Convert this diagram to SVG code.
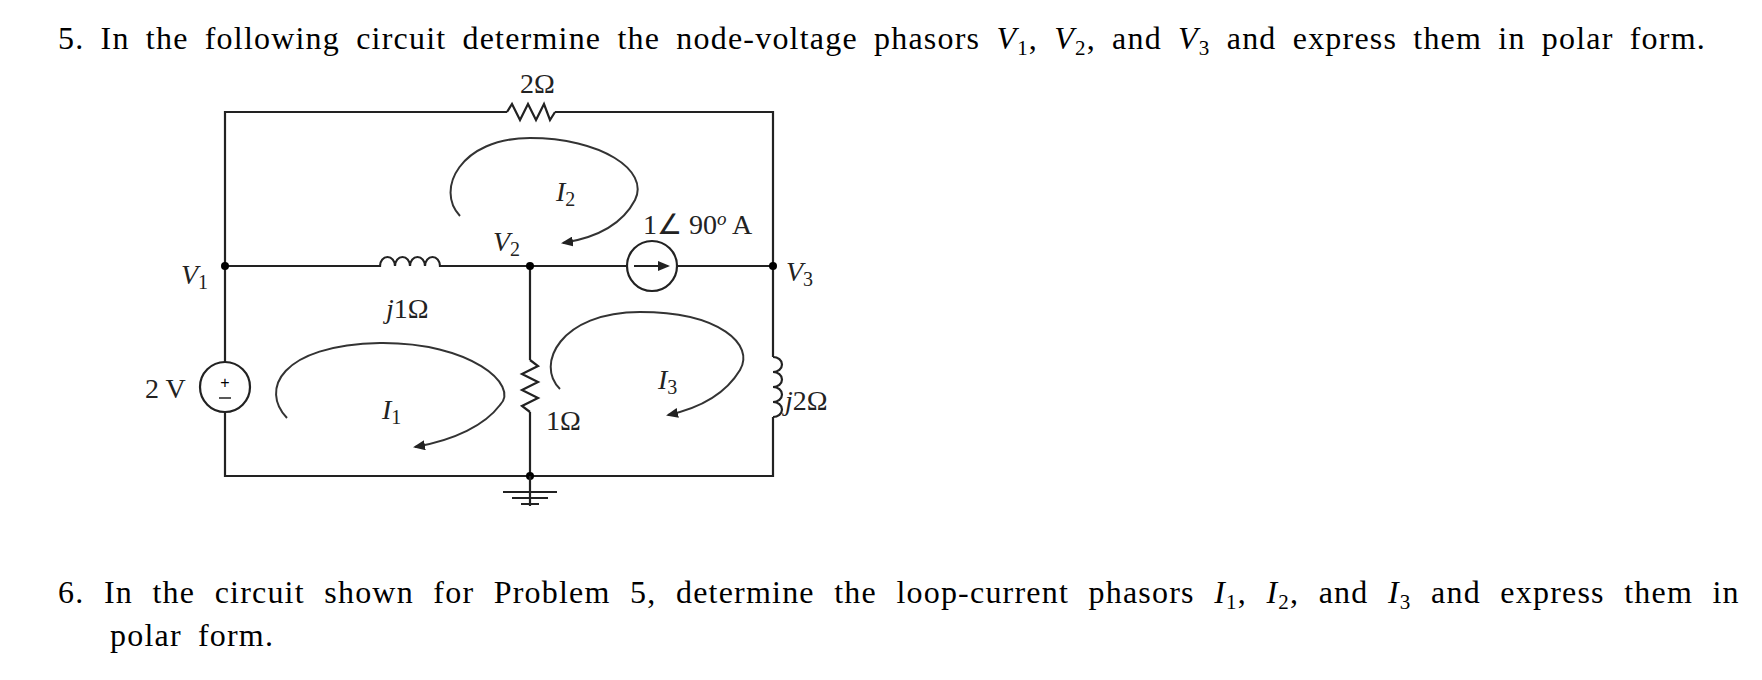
<svg xmlns="http://www.w3.org/2000/svg" width="1762" height="680" viewBox="0 0 1762 680">
<style>
.w{fill:none;stroke:#222;stroke-width:2.2}
.a{fill:none;stroke:#333;stroke-width:2}
.t{font-family:"Liberation Serif",serif;font-size:32px;fill:#000;word-spacing:7px;letter-spacing:1.2px}
.c{font-family:"Liberation Serif",serif;font-size:28px;fill:#222}
.i{font-style:italic}
</style>
<defs><marker id="ar" markerWidth="12" markerHeight="10" refX="10" refY="5" orient="auto" markerUnits="userSpaceOnUse"><path d="M0,0 L12,5 L0,10 Z" fill="#222"/></marker></defs>
<rect width="1762" height="680" fill="#fff"/>
<text class="t" x="58" y="49">5. In the following circuit determine the node-voltage phasors <tspan class="i">V</tspan><tspan font-size="21" dy="6">1</tspan><tspan dy="-6">, </tspan><tspan class="i">V</tspan><tspan font-size="21" dy="6">2</tspan><tspan dy="-6">, and </tspan><tspan class="i">V</tspan><tspan font-size="21" dy="6">3</tspan><tspan dy="-6"> and express them in polar form.</tspan></text>
<text class="t" x="58" y="603" style="word-spacing:10.3px">6. In the circuit shown for Problem 5, determine the loop-current phasors <tspan class="i">I</tspan><tspan font-size="21" dy="6">1</tspan><tspan dy="-6">, </tspan><tspan class="i">I</tspan><tspan font-size="21" dy="6">2</tspan><tspan dy="-6">, and </tspan><tspan class="i">I</tspan><tspan font-size="21" dy="6">3</tspan><tspan dy="-6"> and express them in</tspan></text>
<text class="t" x="110" y="646">polar form.</text>
<g id="connectors">
<path class="w" d="M507,112 H225 V362 M225,412 V476 H773 V417 M773,357 V112 H555"/>
<path class="w" d="M225,266 H367 M459,266 H627 M677,266 H773 M530,266 V360 M530,412 V476"/>
</g>
<g id="R2"><path class="w" d="M507,112 L512,104 L520,120 L528,104 L536,120 L544,104 L550,120 L555,112"/><text class="c" x="520" y="93">2Ω</text></g>
<g id="L1"><path class="w" d="M367,266 H380 a7.5,9 0 0 1 15,0 a7.5,9 0 0 1 15,0 a7.5,9 0 0 1 15,0 a7.5,9 0 0 1 15,0 H459"/><text class="c" x="386" y="318"><tspan class="i">j</tspan>1Ω</text></g>
<g id="R1"><path class="w" d="M530,360 L538,366 L522,374 L538,382 L522,390 L538,398 L522,406 L530,412"/><text class="c" x="546" y="430">1Ω</text></g>
<g id="L2"><path class="w" d="M773,357 a9,7.5 0 0 1 0,15 a9,7.5 0 0 1 0,15 a9,7.5 0 0 1 0,15 a9,7.5 0 0 1 0,15"/><text class="c" x="785" y="410"><tspan class="i">j</tspan>2Ω</text></g>
<g id="Vs"><circle class="w" cx="225" cy="387" r="25"/><text x="225" y="388" font-family="Liberation Sans,sans-serif" font-size="16" text-anchor="middle">+</text><line x1="219" y1="398" x2="231" y2="398" stroke="#222" stroke-width="1.5"/><text class="c" x="145" y="398">2 V</text></g>
<g id="Is"><circle class="w" cx="652" cy="266" r="25"/><line x1="634" y1="266" x2="668" y2="266" class="w" marker-end="url(#ar)"/><text class="c" x="643" y="234">1∠ 90<tspan font-size="19" dy="-9" class="i">o</tspan><tspan dy="9"> A</tspan></text></g>
<g id="nodes">
<circle cx="225" cy="266" r="4" fill="#000"/><circle cx="530" cy="266" r="4" fill="#000"/><circle cx="773" cy="266" r="4" fill="#000"/><circle cx="530" cy="476" r="4" fill="#000"/>
<path class="w" d="M530,476 V506 M503,492 H557 M512,498 H548 M521,504 H539"/>
<text class="c" x="181" y="284" font-size="33"><tspan class="i">V</tspan><tspan font-size="20" dy="5">1</tspan></text>
<text class="c" x="493" y="251" font-size="33"><tspan class="i">V</tspan><tspan font-size="20" dy="5">2</tspan></text>
<text class="c" x="786" y="281" font-size="33"><tspan class="i">V</tspan><tspan font-size="20" dy="5">3</tspan></text>
</g>
<g id="loops">
<path class="a" d="M287,418 C260,390 280,345 380,343 C470,342 520,385 500,405 C485,425 455,440 415,447" marker-end="url(#ar)"/>
<path class="a" d="M460,216 C435,190 460,138 530,138 C600,138 650,170 635,200 C622,225 595,238 563,243" marker-end="url(#ar)"/>
<path class="a" d="M560,389 C535,365 560,312 640,312 C720,312 755,345 740,370 C725,395 700,408 668,415" marker-end="url(#ar)"/>
<text class="c" x="382" y="419" font-size="33"><tspan class="i">I</tspan><tspan font-size="20" dy="5">1</tspan></text>
<text class="c" x="556" y="201" font-size="33"><tspan class="i">I</tspan><tspan font-size="20" dy="5">2</tspan></text>
<text class="c" x="658" y="389" font-size="33"><tspan class="i">I</tspan><tspan font-size="20" dy="5">3</tspan></text>
</g>
</svg>
